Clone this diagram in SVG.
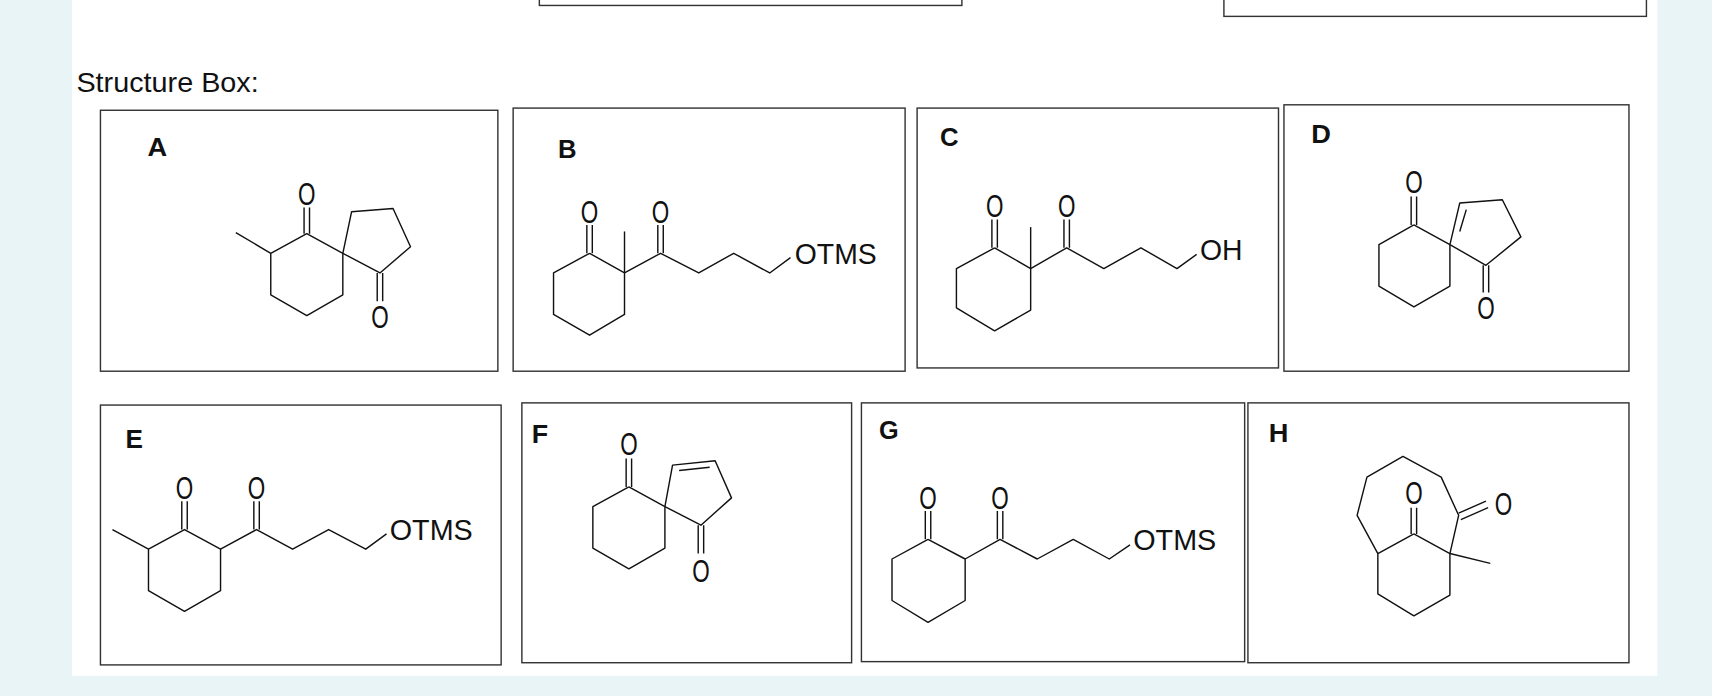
<svg xmlns="http://www.w3.org/2000/svg" width="1712" height="696" viewBox="0 0 1712 696">
<style>
.bx{fill:#fff;stroke:#333;stroke-width:1.3}
.b{fill:none;stroke:#111;stroke-width:1.3;stroke-linejoin:round}
.t{font-family:"Liberation Sans",Arial,sans-serif;font-size:27px;fill:#111}
.o{font-family:"Liberation Sans",Arial,sans-serif;font-size:29px;fill:#111;text-anchor:middle}
.l{font-family:"Liberation Sans",Arial,sans-serif;font-size:24px;font-weight:bold;fill:#111}
</style>
<rect width="1712" height="696" fill="#e9f4f7"/>
<g transform="scale(1.0918)">
<rect x="66" y="0" width="1452" height="619" fill="#fff"/>
<rect class="bx" x="494" y="-10" width="387" height="15"/>
<rect class="bx" x="1121" y="-10" width="387" height="25"/>
<text class="t" x="70" y="84" style="font-size:25px" textLength="167" lengthAdjust="spacingAndGlyphs">Structure Box:</text>

<g id="A">
<rect class="bx" x="92" y="101" width="364" height="239"/>
<text class="l" x="135" y="143" textLength="18" lengthAdjust="spacingAndGlyphs">A</text>
<polyline class="b" points="216,213 248,232 281,214 314,232 314,270 281,289 248,270 248,232"/>
<polyline class="b" points="314,232 322,194 360,191 376,226 348,250 314,232"/>
<path class="b" d="M278.5,214V190M283.5,214V190M345.5,250V276M350.5,250V276"/>
<text class="o" x="281" y="188" textLength="16" lengthAdjust="spacingAndGlyphs">O</text><text class="o" x="348" y="300" textLength="16" lengthAdjust="spacingAndGlyphs">O</text>
</g>

<g id="B">
<rect class="bx" x="470" y="99" width="359" height="241"/>
<text class="l" x="511" y="145" textLength="17" lengthAdjust="spacingAndGlyphs">B</text>
<polyline class="b" points="540,232 507,250 507,288 540,307 572,288 572,250 540,232"/>
<polyline class="b" points="572,250 572,212"/>
<polyline class="b" points="572,250 605,232 640,250 672,232 705,250 724,236"/>
<path class="b" d="M537.5,232V206M542.5,232V206M602.5,232V206M607.5,232V206"/>
<text class="o" x="540" y="204" textLength="16" lengthAdjust="spacingAndGlyphs">O</text><text class="o" x="605" y="204" textLength="16" lengthAdjust="spacingAndGlyphs">O</text>
<text class="t" x="728" y="242" textLength="75" lengthAdjust="spacingAndGlyphs">OTMS</text>
</g>

<g id="C">
<rect class="bx" x="840" y="99" width="331" height="238"/>
<text class="l" x="861" y="134" textLength="17" lengthAdjust="spacingAndGlyphs">C</text>
<polyline class="b" points="911,227 876,246 876,282 911,303 944,284 944,246 911,227"/>
<polyline class="b" points="944,246 944,208"/>
<polyline class="b" points="944,246 977,227 1011,246 1045,227 1078,246 1096,233"/>
<path class="b" d="M908.5,227V201M913.5,227V201M974.5,227V201M979.5,227V201"/>
<text class="o" x="911" y="199" textLength="16" lengthAdjust="spacingAndGlyphs">O</text><text class="o" x="977" y="199" textLength="16" lengthAdjust="spacingAndGlyphs">O</text>
<text class="t" x="1099" y="238" textLength="39" lengthAdjust="spacingAndGlyphs">OH</text>
</g>

<g id="D">
<rect class="bx" x="1176" y="96" width="316" height="244"/>
<text class="l" x="1201" y="131" textLength="18" lengthAdjust="spacingAndGlyphs">D</text>
<polyline class="b" points="1295,206 1263,224 1263,262 1295,281 1328,262 1328,224 1295,206"/>
<polyline class="b" points="1328,224 1337,186 1376,183 1393,217 1361,243 1328,224"/>
<path class="b" d="M1343,192L1337,212"/>
<path class="b" d="M1292.5,206V180M1297.5,206V180M1358.5,243V268M1363.5,243V268"/>
<text class="o" x="1295" y="177" textLength="16" lengthAdjust="spacingAndGlyphs">O</text><text class="o" x="1361" y="292" textLength="16" lengthAdjust="spacingAndGlyphs">O</text>
</g>

<g id="E">
<rect class="bx" x="92" y="371" width="367" height="238"/>
<text class="l" x="115" y="410" textLength="16" lengthAdjust="spacingAndGlyphs">E</text>
<polyline class="b" points="103,485 136,503 169,485 202,503 202,541 169,560 136,541 136,503"/>
<polyline class="b" points="202,503 235,485 268,503 301,485 335,503 354,489"/>
<path class="b" d="M166.5,485V459M171.5,485V459M232.5,485V459M237.5,485V459"/>
<text class="o" x="169" y="457" textLength="16" lengthAdjust="spacingAndGlyphs">O</text><text class="o" x="235" y="457" textLength="16" lengthAdjust="spacingAndGlyphs">O</text>
<text class="t" x="357" y="495" textLength="76" lengthAdjust="spacingAndGlyphs">OTMS</text>
</g>

<g id="F">
<rect class="bx" x="478" y="369" width="302" height="238"/>
<text class="l" x="487" y="406" textLength="15" lengthAdjust="spacingAndGlyphs">F</text>
<polyline class="b" points="576,446 543,464 543,502 576,521 609,502 609,464 576,446"/>
<polyline class="b" points="609,464 616,426 655,422 670,456 642,481 609,464"/>
<path class="b" d="M622,431L650,428"/>
<path class="b" d="M573.5,446V420M578.5,446V420M639.5,481V507M644.5,481V507"/>
<text class="o" x="576" y="417" textLength="16" lengthAdjust="spacingAndGlyphs">O</text><text class="o" x="642" y="533" textLength="16" lengthAdjust="spacingAndGlyphs">O</text>
</g>

<g id="G">
<rect class="bx" x="789" y="369" width="351" height="237"/>
<text class="l" x="805" y="402" textLength="18" lengthAdjust="spacingAndGlyphs">G</text>
<polyline class="b" points="850,494 817,512 817,550 850,570 884,550 884,512 850,494"/>
<polyline class="b" points="884,512 916,494 950,512 983,494 1016,512 1035,499"/>
<path class="b" d="M847.5,494V468M852.5,494V468M913.5,494V468M918.5,494V468"/>
<text class="o" x="850" y="466" textLength="16" lengthAdjust="spacingAndGlyphs">O</text><text class="o" x="916" y="466" textLength="16" lengthAdjust="spacingAndGlyphs">O</text>
<text class="t" x="1038" y="504" textLength="76" lengthAdjust="spacingAndGlyphs">OTMS</text>
</g>

<g id="H">
<rect class="bx" x="1143" y="369" width="349" height="238"/>
<text class="l" x="1162" y="405" textLength="18" lengthAdjust="spacingAndGlyphs">H</text>
<polyline class="b" points="1295,489 1262,507 1262,544 1295,564 1328,545 1328,507 1295,489"/>
<polyline class="b" points="1328,507 1365,516"/>
<polyline class="b" points="1262,507 1243,472 1252,437 1285,418 1320,437 1336,472 1328,507"/>
<path class="b" d="M1292.5,489V465M1297.5,489V465M1336,470L1361,459M1338,476L1363,465"/>
<text class="o" x="1295" y="462" textLength="16" lengthAdjust="spacingAndGlyphs">O</text><text class="o" x="1377" y="472" textLength="16" lengthAdjust="spacingAndGlyphs">O</text>
</g>
</g>
</svg>
